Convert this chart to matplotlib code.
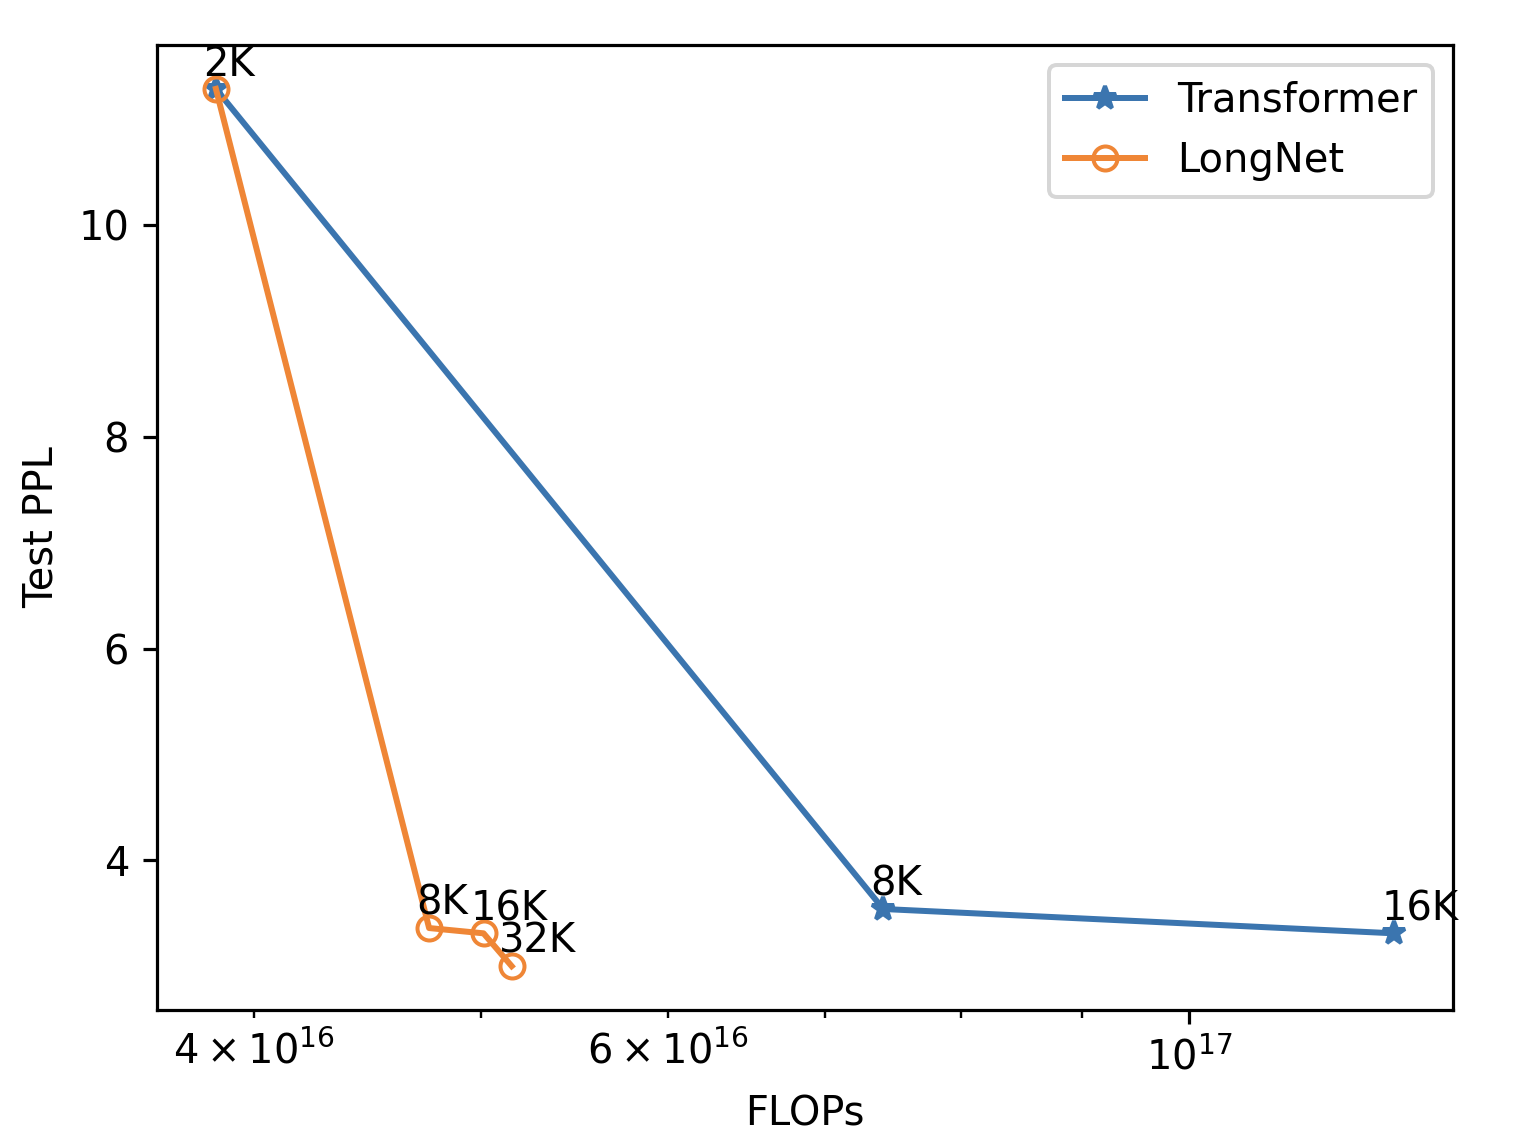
import matplotlib
matplotlib.use("Agg")
import matplotlib.pyplot as plt

transformer_flops = [3.855e16, 7.41e16, 1.222e17]
transformer_ppl = [11.29, 3.54, 3.31]
transformer_labels = ["2K", "8K", "16K"]

longnet_flops = [3.855e16, 4.75e16, 5.01e16, 5.15e16]
longnet_ppl = [11.29, 3.36, 3.31, 3.00]
longnet_labels = ["2K", "8K", "16K", "32K"]

DPI = 288
fig = plt.figure(figsize=(1518 / DPI, 1144 / DPI), dpi=DPI)
ax = fig.add_axes([157 / 1518, 1 - 1010 / 1144, (1453 - 157) / 1518, (1010 - 45) / 1144])

blue = "#3b75af"
orange = "#ef8636"

ax.plot(transformer_flops, transformer_ppl, marker="*", color=blue, label="Transformer")
ax.plot(longnet_flops, longnet_ppl, marker="o", color=orange, markerfacecolor="none", label="LongNet")

for x, y, t in zip(transformer_flops, transformer_ppl, transformer_labels):
    ax.annotate(t, (x, y), xytext=(-3.2, 3.3), textcoords="offset points", fontsize=10)
for x, y, t in zip(longnet_flops[1:], longnet_ppl[1:], longnet_labels[1:]):
    ax.annotate(t, (x, y), xytext=(-3.2, 3.3), textcoords="offset points", fontsize=10)

ax.set_xscale("log")
ax.set_xlabel("FLOPs")
ax.set_ylabel("Test PPL")
ax.legend(loc="upper right", fontsize=10)

fig.savefig("out.png", dpi=DPI)
